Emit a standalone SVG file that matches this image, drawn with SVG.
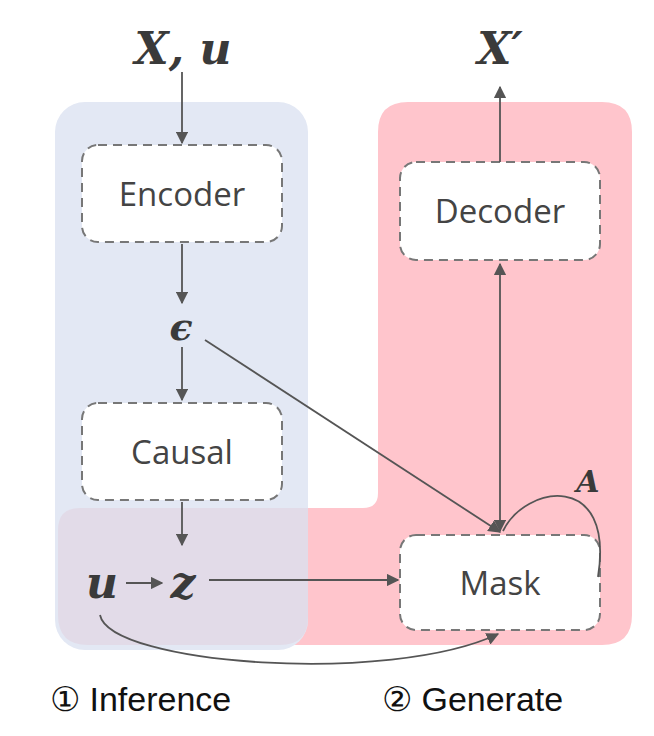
<svg xmlns="http://www.w3.org/2000/svg" width="654" height="736" viewBox="0 0 654 736">
<style>
.box{fill:#fff;stroke:#777;stroke-width:2;stroke-dasharray:9 6}
.lbl{font-family:"Open Sans","Liberation Sans",sans-serif;font-size:33px;fill:#444;text-anchor:middle}
.m{font-family:"DejaVu Serif",serif;font-weight:bold;font-style:italic;fill:#3a3a3a;text-anchor:middle}
.c{stroke:#555;stroke-width:1.8;fill:none}
.cap{font-family:"Liberation Sans",sans-serif;font-size:34px;fill:#111}
</style>
<defs><marker id="ah" viewBox="0 0 10 10" refX="9" refY="5" markerWidth="7" markerHeight="7" orient="auto-start-reverse"><path d="M0,0L10,5L0,10z" fill="#555"/></marker></defs>
<g id="bg">
<path d="M408,102H602Q632,102 632,132V615Q632,645 602,645H88Q58,645 58,615V538Q58,508 88,508H363Q378,508 378,493V132Q378,102 408,102Z" fill="#ffc5cc"/>
<rect x="55" y="102" width="253" height="548" rx="30" fill="#e3e8f4"/>
<path d="M80,508H308V617Q308,645 280,645H88Q58,645 58,615V530Q58,508 80,508Z" fill="#e2dbe8"/>
</g>
<g id="encoder"><rect class="box" x="82" y="145" width="200" height="97" rx="16"/><text class="lbl" x="182" y="206">Encoder</text></g>
<g id="causal"><rect class="box" x="82" y="403" width="200" height="97" rx="16"/><text class="lbl" x="182" y="464">Causal</text></g>
<g id="decoder"><rect class="box" x="400" y="162" width="200" height="98" rx="16"/><text class="lbl" x="500" y="223">Decoder</text></g>
<g id="mask"><rect class="box" x="400" y="535" width="200" height="95" rx="16"/><text class="lbl" x="500" y="595">Mask</text></g>
<g id="math">
<text class="m" x="183" y="64" font-size="44">X, u</text>
<text class="m" x="181" y="340" font-size="38">ϵ</text>
<text class="m" x="102" y="598" font-size="44">u</text>
<text class="m" x="183" y="598" font-size="44">z</text>
<text class="m" x="500" y="64" font-size="44">X′</text>
<text class="m" x="588" y="492" font-size="30">A</text>
</g>
<g id="connectors">
<path class="c" d="M182,72V143" marker-end="url(#ah)"/>
<path class="c" d="M182,244V303" marker-end="url(#ah)"/>
<path class="c" d="M182,347V400" marker-end="url(#ah)"/>
<path class="c" d="M182,502V545" marker-end="url(#ah)"/>
<path class="c" d="M126,583H162" marker-end="url(#ah)"/>
<path class="c" d="M209,580H398" marker-end="url(#ah)"/>
<path class="c" d="M205,340L500,532" marker-end="url(#ah)"/>
<path class="c" d="M500,264V531" marker-start="url(#ah)" marker-end="url(#ah)"/>
<path class="c" d="M500,162V87" marker-end="url(#ah)"/>
<path class="c" d="M503,531C525,485 615,470 598,577"/>
<path class="c" d="M100,615C110,665 390,685 498,634" marker-end="url(#ah)"/>
</g>
<g id="captions">
<text class="cap" x="50" y="711">① Inference</text>
<text class="cap" x="382" y="711">② Generate</text>
</g>
</svg>
